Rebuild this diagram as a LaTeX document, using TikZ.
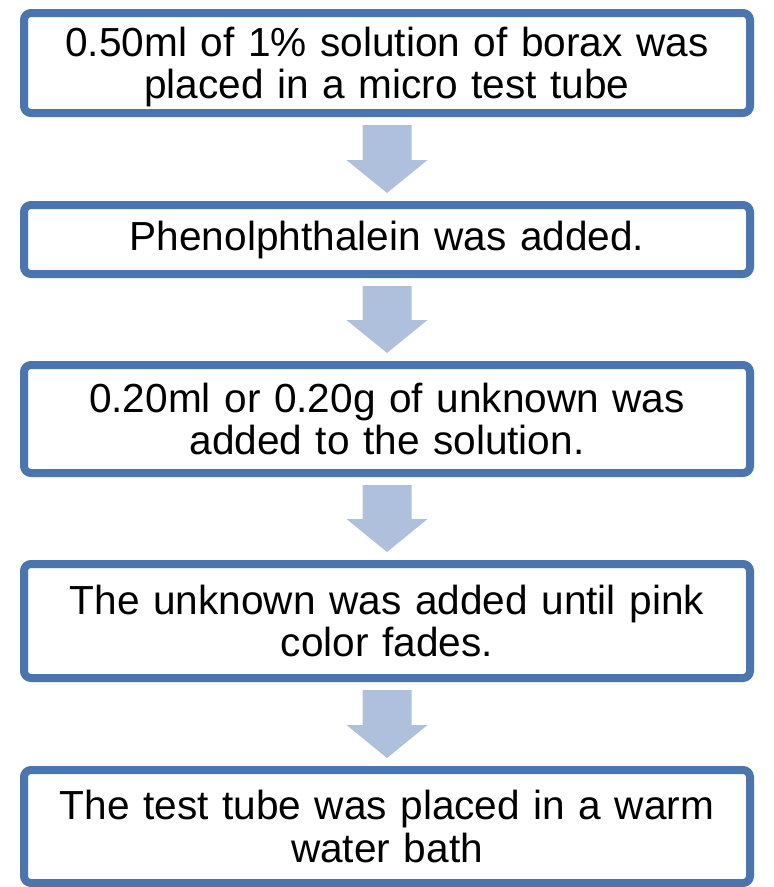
\documentclass[tikz,border=0pt]{standalone}
\usepackage{fontspec}
\setmainfont{Liberation Sans}
\usetikzlibrary{calc}
\definecolor{boxline}{HTML}{4A75AD}
\definecolor{arrowfill}{HTML}{AFC0DD}
\tikzset{
  stepbox/.style={draw=boxline, line width=8pt, rounded corners=7pt, fill=white,
    minimum width=726pt, text width=720pt, align=center, inner sep=0pt,
    font=\fontsize{40.6}{42.5}\selectfont},
  blockarrow/.style={fill=arrowfill, draw=none}
}
\newcommand{\lastline}[1]{\raisebox{0pt}[\height][0pt]{#1}}
\newcommand{\flowarrow}[2]{%
  \fill[blockarrow] let \p1=(#1.south), \p2=(#2.north) in
    (\x1-24.5pt,\y1-8pt) -- (\x1+24.5pt,\y1-8pt) -- (\x1+24.5pt,\y2+41pt)
    -- (\x1+40.5pt,\y2+41pt) -- (\x1,\y2+8pt) -- (\x1-40.5pt,\y2+41pt)
    -- (\x1-24.5pt,\y2+41pt) -- cycle;}
\begin{document}
\begin{tikzpicture}[x=1pt,y=-1pt]
\useasboundingbox (0,0) rectangle (774,887);
\node[stepbox, minimum height=100pt] (b1) at (387,63) {0.50ml of 1\% solution of borax was\\\lastline{placed in a micro test tube}};
\node[stepbox, minimum height=69pt] (b2) at (387,239.5) {Phenolphthalein was added.};
\node[stepbox, minimum height=108pt] (b3) at (387,419) {0.20ml or 0.20g of unknown was\\\lastline{added to the solution.}};
\node[stepbox, minimum height=114pt] (b4) at (387,621) {The unknown was added until pink\\\lastline{color fades.}};
\node[stepbox, minimum height=113pt] (b5) at (387,826.5) {The test tube was placed in a warm\\\lastline{water bath}};
\flowarrow{b1}{b2}
\flowarrow{b2}{b3}
\flowarrow{b3}{b4}
\flowarrow{b4}{b5}
\end{tikzpicture}
\end{document}
